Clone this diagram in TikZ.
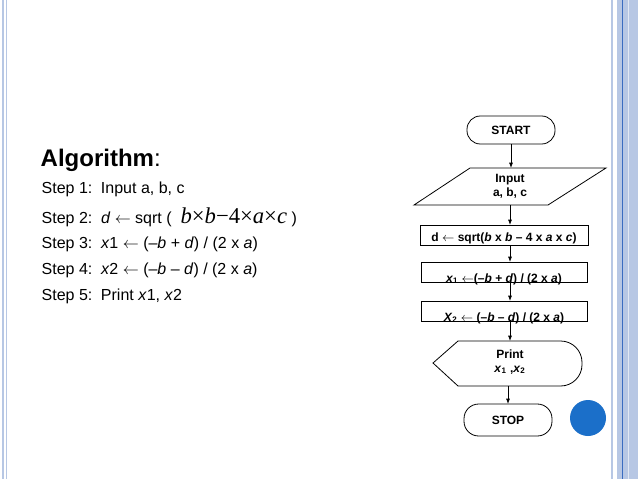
\documentclass[tikz,border=0pt]{standalone}
\usepackage{fontspec}
\setmainfont{Liberation Sans}
\newfontfamily\serifm{Liberation Serif}
\usetikzlibrary{shapes.geometric,arrows.meta}
\definecolor{lb}{HTML}{B7C7E4}
\definecolor{db}{HTML}{3A6CC0}
\definecolor{dot}{HTML}{1B6FC9}
\begin{document}
\begin{tikzpicture}[x=0.75pt,y=-0.75pt,
  box/.style={draw,line width=0.6pt,inner sep=0pt},
  ar/.style={-{Latex[length=4pt,width=3pt]},line width=0.6pt},
  ft/.style={font=\fontsize{9}{10.5}\selectfont\bfseries},
  st/.style={anchor=base west,font=\fontsize{12}{14}\selectfont}]
\useasboundingbox (0,0) rectangle (638,479);
\fill[white] (0,0) rectangle (638,479);
% borders
\draw[lb,line width=1pt] (3,0)--(3,479);
\draw[lb,line width=1pt] (6.5,0)--(6.5,479);
\draw[lb,line width=1pt] (612,0)--(612,479);
\fill[lb] (617,0) rectangle (638,479);
\draw[db,line width=0.8pt] (622.5,0)--(622.5,479);
\draw[white!60!lb,line width=0.6pt] (628,0)--(628,479);
% left text
\node[anchor=base west,font=\fontsize{18}{20}\selectfont] (alg) at (36,166) {\textbf{Algorithm}:};
\node[st] (s1) at (37,193) {Step 1:\, Input a, b, c};
\node[st] (s2) at (37,223) {Step 2:\, \textit{d} $\leftarrow$ sqrt (\; {\fontsize{17}{17}\selectfont\serifm\itshape b\upshape×\itshape b\upshape−4×\itshape a\upshape×\itshape c} )};
\node[st] (s3) at (37,248) {Step 3:\, \textit{x}1 $\leftarrow$ (–\textit{b} + \textit{d}) / (2 x \textit{a})};
\node[st] (s4) at (37,274) {Step 4:\, \textit{x}2 $\leftarrow$ (–\textit{b} – \textit{d}) / (2 x \textit{a})};
\node[st] (s5) at (37,300) {Step 5:\, Print \textit{x}1, \textit{x}2};
% flowchart
\draw[box,rounded corners=10pt] (467,116) rectangle (555,144);
\node[ft] (start) at (511,130) {START};
\draw[box] (470,168)--(606,168)--(548,205)--(414,205)--cycle;
\node[ft,align=center] (inp) at (510,186) {Input\\a, b, c};
\draw[box] (420,225) rectangle (588,245);
\node[ft] (d) at (504,238) {d $\leftarrow$ sqrt(\textit{b} x \textit{b} – 4 x \textit{a} x \textit{c})};
\draw[box] (421,262) rectangle (587,282);
\node[ft] (x1) at (504,279) {\textit{x}\textsubscript{1} $\leftarrow$(–\textit{b} + \textit{d}) / (2 x \textit{a})};
\draw[box] (421,301) rectangle (587,321);
\node[ft] (x2) at (504,318) {\textit{X}\textsubscript{2} $\leftarrow$ (–\textit{b} – \textit{d}) / (2 x \textit{a})};
\draw[box,rounded corners=16pt] (458,341) -- (582,341) -- (582,386) -- (458,386);
\draw[box] (458,341) -- (433,363) -- (458,386);
\node[ft,align=center] (pr) at (510,362) {Print\\\textit{x}\textsubscript{1} ,\textit{x}\textsubscript{2}};
\draw[box,rounded corners=11pt] (464,404) rectangle (552,436);
\node[ft] (stop) at (508,420) {STOP};
\coordinate (a1) at (511,144); \coordinate (b1) at (511,168);
\coordinate (a2) at (510,205); \coordinate (b2) at (510,225);
\coordinate (a3) at (510,245); \coordinate (b3) at (510,262);
\coordinate (a4) at (510,282); \coordinate (b4) at (510,301);
\coordinate (a5) at (510,321); \coordinate (b5) at (510,341);
\coordinate (a6) at (508,386); \coordinate (b6) at (508,404);
\foreach \i in {1,...,6} \draw[ar] (a\i)--(b\i);
\fill[dot] (588,418) circle[radius=18];
\end{tikzpicture}
\end{document}
